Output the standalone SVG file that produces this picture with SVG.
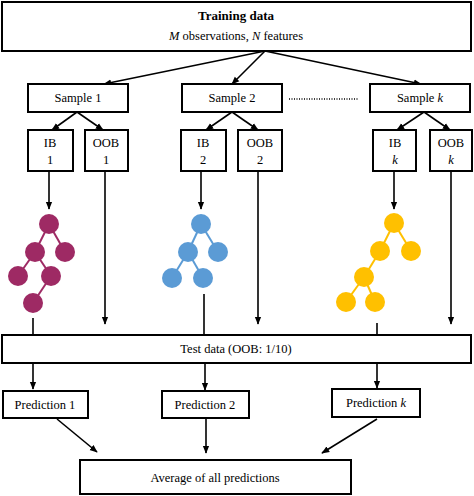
<svg xmlns="http://www.w3.org/2000/svg" width="474" height="496" viewBox="0 0 474 496">
<style>
.box{fill:#fff;stroke:#000;stroke-width:2}
.t{font-family:"Liberation Serif","Times New Roman",serif;font-size:12.5px;fill:#000;text-anchor:middle}
.b{font-weight:bold;font-size:13px}
.c{stroke:#000;stroke-width:1.6;fill:none}
.ca{stroke:#000;stroke-width:1.6;fill:none;marker-end:url(#ah)}
.p{fill:#9E2A64}.pl{stroke:#9E2A64;stroke-width:2}
.bl{fill:#5B9BD5}.bll{stroke:#5B9BD5;stroke-width:2}
.y{fill:#FFC000}.yl{stroke:#FFC000;stroke-width:2}
</style>
<defs>
<marker id="ah" viewBox="0 0 10 10" refX="9" refY="5" markerWidth="5" markerHeight="5" orient="auto" markerUnits="strokeWidth">
<path d="M0,1 L10,5 L0,9 z" fill="#000"/>
</marker>
</defs>
<g id="connectors">
<line class="ca" x1="265" y1="51" x2="104" y2="84"/>
<line class="ca" x1="265" y1="51" x2="232" y2="84"/>
<line class="ca" x1="265" y1="51" x2="421" y2="84"/>
<line class="ca" x1="77" y1="112" x2="52" y2="130"/>
<line class="ca" x1="77" y1="112" x2="103" y2="130"/>
<line class="ca" x1="232" y1="112" x2="206" y2="130"/>
<line class="ca" x1="232" y1="112" x2="258" y2="130"/>
<line class="ca" x1="424" y1="112" x2="397" y2="130"/>
<line class="ca" x1="424" y1="112" x2="450" y2="130"/>
<line class="ca" x1="49" y1="171" x2="49" y2="209"/>
<line class="ca" x1="105" y1="171" x2="105" y2="324"/>
<line class="ca" x1="201" y1="171" x2="201" y2="209"/>
<line class="ca" x1="258" y1="171" x2="258" y2="324"/>
<line class="ca" x1="394" y1="171" x2="394" y2="209"/>
<line class="ca" x1="451" y1="171" x2="451" y2="324"/>
<line class="c" x1="33" y1="318" x2="33" y2="335"/>
<line class="c" x1="204" y1="294" x2="204" y2="335"/>
<line class="c" x1="377" y1="323" x2="377" y2="335"/>
<line class="ca" x1="33" y1="363" x2="33" y2="389"/>
<line class="ca" x1="205" y1="363" x2="205" y2="390"/>
<line class="ca" x1="377" y1="363" x2="377" y2="388"/>
<line class="ca" x1="57" y1="419" x2="97" y2="452"/>
<line class="ca" x1="206" y1="418" x2="206" y2="453"/>
<line class="ca" x1="377" y1="419" x2="322" y2="453"/>
<line x1="289" y1="99" x2="359" y2="99" stroke="#000" stroke-width="1.3" stroke-dasharray="1,1.5"/>
</g>
<g id="training">
<rect class="box" x="2" y="2" width="469" height="49"/>
<text class="t b" x="236" y="20">Training data</text>
<text class="t" x="236" y="40"><tspan font-style="italic">M</tspan> observations,  <tspan font-style="italic">N</tspan> features</text>
</g>
<g id="sample1"><rect class="box" x="28" y="84" width="100" height="28"/><text class="t" x="78" y="102">Sample 1</text></g>
<g id="sample2"><rect class="box" x="182" y="84" width="100" height="28"/><text class="t" x="232" y="102">Sample 2</text></g>
<g id="samplek"><rect class="box" x="370" y="84" width="100" height="28"/><text class="t" x="420" y="102">Sample <tspan font-style="italic">k</tspan></text></g>
<g id="ib1"><rect class="box" x="28" y="130" width="45" height="41"/><text class="t" x="50" y="147">IB</text><text class="t" x="50" y="164">1</text></g>
<g id="oob1"><rect class="box" x="85" y="130" width="43" height="41"/><text class="t" x="106" y="147">OOB</text><text class="t" x="106" y="164">1</text></g>
<g id="ib2"><rect class="box" x="181" y="130" width="45" height="41"/><text class="t" x="203" y="147">IB</text><text class="t" x="203" y="164">2</text></g>
<g id="oob2"><rect class="box" x="238" y="130" width="44" height="41"/><text class="t" x="260" y="147">OOB</text><text class="t" x="260" y="164">2</text></g>
<g id="ibk"><rect class="box" x="373" y="130" width="43" height="41"/><text class="t" x="395" y="147">IB</text><text class="t" x="395" y="164" font-style="italic">k</text></g>
<g id="oobk"><rect class="box" x="430" y="130" width="42" height="41"/><text class="t" x="451" y="147">OOB</text><text class="t" x="451" y="164" font-style="italic">k</text></g>
<g id="tree1">
<line class="pl" x1="49" y1="224" x2="35" y2="252"/><line class="pl" x1="49" y1="224" x2="65" y2="252"/>
<line class="pl" x1="35" y1="252" x2="18" y2="276"/><line class="pl" x1="35" y1="252" x2="51" y2="276"/>
<line class="pl" x1="51" y1="276" x2="33" y2="303"/>
<circle class="p" cx="49" cy="224" r="10"/><circle class="p" cx="35" cy="252" r="10"/><circle class="p" cx="65" cy="252" r="10"/>
<circle class="p" cx="18" cy="276" r="10"/><circle class="p" cx="51" cy="276" r="10"/><circle class="p" cx="33" cy="303" r="10"/>
</g>
<g id="tree2">
<line class="bll" x1="201" y1="224" x2="188" y2="252"/><line class="bll" x1="201" y1="224" x2="218" y2="252"/>
<line class="bll" x1="188" y1="252" x2="172" y2="278"/><line class="bll" x1="188" y1="252" x2="203" y2="278"/>
<circle class="bl" cx="201" cy="224" r="10"/><circle class="bl" cx="188" cy="252" r="10"/><circle class="bl" cx="218" cy="252" r="10"/>
<circle class="bl" cx="172" cy="278" r="10"/><circle class="bl" cx="203" cy="278" r="10"/>
</g>
<g id="treek">
<line class="yl" x1="394" y1="223" x2="380" y2="251"/><line class="yl" x1="394" y1="223" x2="411" y2="251"/>
<line class="yl" x1="380" y1="251" x2="364" y2="277"/>
<line class="yl" x1="364" y1="277" x2="346" y2="302"/><line class="yl" x1="364" y1="277" x2="375" y2="302"/>
<circle class="y" cx="394" cy="223" r="10"/><circle class="y" cx="380" cy="251" r="10"/><circle class="y" cx="411" cy="251" r="10"/>
<circle class="y" cx="364" cy="277" r="10"/><circle class="y" cx="346" cy="302" r="10"/><circle class="y" cx="375" cy="302" r="10"/>
</g>
<g id="test"><rect class="box" x="2" y="335" width="469" height="28"/><text class="t" x="236" y="353">Test data (OOB: 1/10)</text></g>
<g id="pred1"><rect class="box" x="3" y="391" width="85" height="27"/><text class="t" x="45" y="409">Prediction 1</text></g>
<g id="pred2"><rect class="box" x="162" y="391" width="87" height="27"/><text class="t" x="205" y="409">Prediction 2</text></g>
<g id="predk"><rect class="box" x="332" y="389" width="88" height="28"/><text class="t" x="376" y="407">Prediction <tspan font-style="italic">k</tspan></text></g>
<g id="average"><rect class="box" x="80" y="460" width="271" height="34"/><text class="t" x="215" y="482">Average of all predictions</text></g>
</svg>
